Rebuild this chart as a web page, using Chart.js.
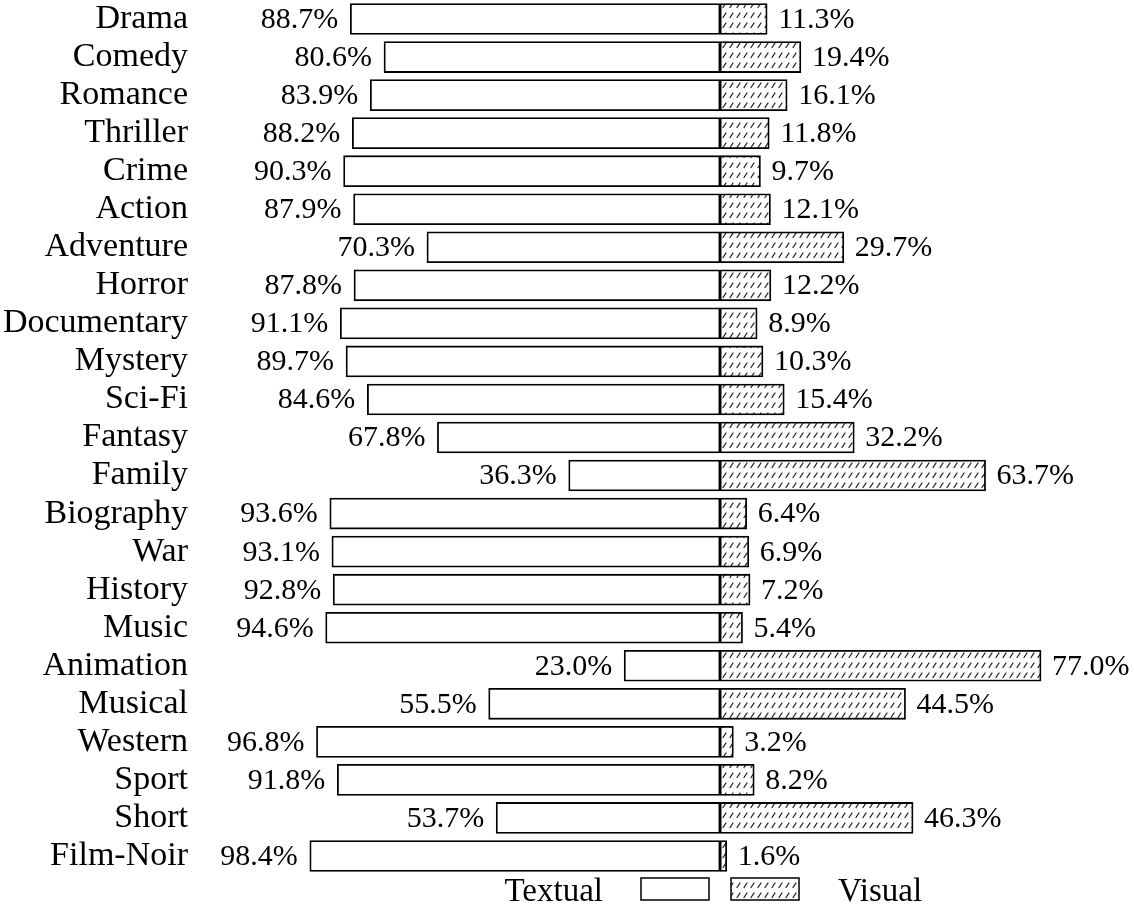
<!DOCTYPE html>
<html>
<head>
<meta charset="utf-8">
<script src="https://cdn.jsdelivr.net/npm/chart.js@4/dist/chart.umd.min.js"></script>
<style>
  html, body { margin: 0; padding: 0; background: #fff; }
  #wrap { width: 1134px; height: 912px; }
</style>
</head>
<body>
<div id="wrap"><canvas id="chart"></canvas></div>
<script>
const genres = ['Drama', 'Comedy', 'Romance', 'Thriller', 'Crime', 'Action', 'Adventure', 'Horror',
  'Documentary', 'Mystery', 'Sci-Fi', 'Fantasy', 'Family', 'Biography', 'War', 'History', 'Music',
  'Animation', 'Musical', 'Western', 'Sport', 'Short', 'Film-Noir'];
const textual = [88.7, 80.6, 83.9, 88.2, 90.3, 87.9, 70.3, 87.8, 91.1, 89.7, 84.6, 67.8, 36.3,
  93.6, 93.1, 92.8, 94.6, 23.0, 55.5, 96.8, 91.8, 53.7, 98.4];
const visual = [11.3, 19.4, 16.1, 11.8, 9.7, 12.1, 29.7, 12.2, 8.9, 10.3, 15.4, 32.2, 63.7,
  6.4, 6.9, 7.2, 5.4, 77.0, 44.5, 3.2, 8.2, 46.3, 1.6];

const FONT = '"Liberation Serif", "DejaVu Serif", serif';

const makeHatch = () => {
  const c = document.createElement('canvas');
  c.width = 7;
  c.height = 10;
  const g = c.getContext('2d');
  g.fillStyle = '#fff';
  g.fillRect(0, 0, 7, 10);
  g.strokeStyle = '#222';
  g.lineWidth = 1.3;
  g.lineCap = 'round';
  g.beginPath();
  g.moveTo(2, 7.5);
  g.lineTo(5, 3);
  g.stroke();
  return g.createPattern(c, 'repeat');
}
const hatch = makeHatch();

// percentage next to each bar end
const barLabels = {
  id: 'barLabels',
  afterDatasetsDraw(chart) {
    const ctx = chart.ctx;
    ctx.save();
    ctx.font = '30px ' + FONT;
    ctx.fillStyle = '#000';
    ctx.textBaseline = 'middle';
    chart.data.datasets.forEach((ds, i) => {
      const meta = chart.getDatasetMeta(i);
      meta.data.forEach((bar, j) => {
        const v = Math.abs(ds.data[j]).toFixed(1) + '%';
        if (ds.data[j] < 0) {
          ctx.textAlign = 'right';
          ctx.fillText(v, bar.x - 12, bar.y + 1);
        } else {
          ctx.textAlign = 'left';
          ctx.fillText(v, bar.x + 11, bar.y + 1);
        }
      });
    });
    ctx.restore();
  }
}

const bottomLegend = {
  id: 'bottomLegend',
  afterDraw(chart) {
    const ctx = chart.ctx;
    ctx.save();
    ctx.font = '33px ' + FONT;
    ctx.fillStyle = '#000';
    ctx.textBaseline = 'middle';
    ctx.textAlign = 'right';
    ctx.fillText('Textual', 603, 892);
    ctx.textAlign = 'left';
    ctx.fillText('Visual', 838, 892);
    ctx.lineWidth = 1.5;
    ctx.strokeStyle = '#000';
    ctx.fillStyle = '#fff';
    ctx.fillRect(641, 878, 68, 22);
    ctx.strokeRect(641, 878, 68, 22);
    ctx.fillStyle = hatch;
    ctx.fillRect(731, 878, 68, 22);
    ctx.strokeRect(731, 878, 68, 22);
    ctx.restore();
  }
}

new Chart(document.getElementById('chart'), {
  type: 'bar',
  data: {
    labels: genres,
    datasets: [
      {
        label: 'Textual',
        data: textual.map(v => -v),
        backgroundColor: '#fff',
        borderColor: '#000',
        borderWidth: 1.8,
        borderSkipped: false,
        barThickness: 31
      },
      {
        label: 'Visual',
        data: visual,
        backgroundColor: hatch,
        borderColor: '#000',
        borderWidth: 1.8,
        borderSkipped: false,
        barThickness: 31
      }
    ]
  },
  options: {
    indexAxis: 'y',
    responsive: true,
    maintainAspectRatio: false,
    animation: false,
    events: [],
    layout: { padding: { top: 0, bottom: 37, left: 0, right: 0 } },
    scales: {
      x: {
        display: false,
        stacked: true,
        min: -125.7,
        max: 99.3
      },
      y: {
        stacked: true,
        grid: { display: false },
        border: { display: false },
        afterFit: (scale) => {
          scale.width = 196;
          scale.paddingTop = 0;
          scale.paddingBottom = 0;
        },
        ticks: {
          autoSkip: false,
          padding: 0,
          color: '#000',
          font: { family: FONT, size: 34 }
        }
      }
    },
    plugins: {
      legend: { display: false },
      tooltip: { enabled: false }
    }
  },
  plugins: [barLabels, bottomLegend]
});
</script>
</body>
</html>
